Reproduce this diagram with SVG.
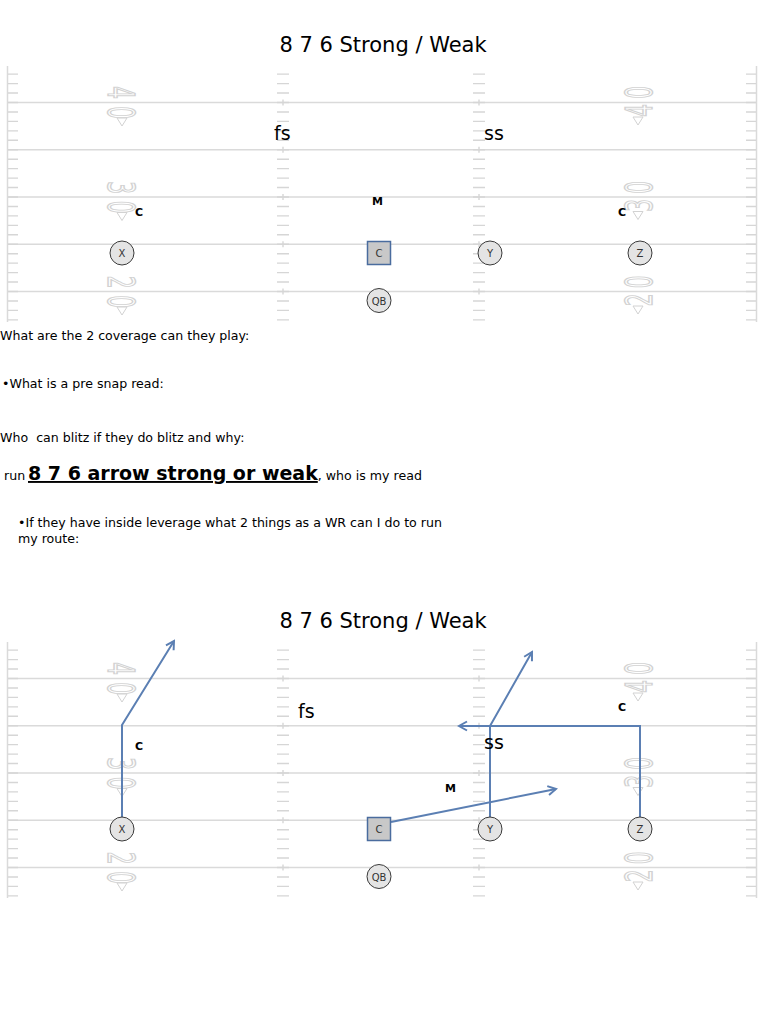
<svg xmlns="http://www.w3.org/2000/svg" xmlns:xlink="http://www.w3.org/1999/xlink" width="768" height="1024" viewBox="0 0 768 1024">
<style>
.fl{stroke:#dadada;stroke-width:1.5;fill:none}
.tk{stroke:#d6d6d6;stroke-width:1.4;fill:none}
.yn{font-family:"DejaVu Sans",sans-serif;font-size:20px;fill:none;stroke:#d2d2d2;stroke-width:0.8;text-anchor:middle}
.tri{fill:#fff;stroke:#d2d2d2;stroke-width:1}
.title{font-family:"DejaVu Sans",sans-serif;font-size:21px;fill:#000;text-anchor:middle}
.big{font-family:"DejaVu Sans",sans-serif;font-size:19px;fill:#000}
.lbl{font-family:"DejaVu Sans",sans-serif;font-size:11px;font-weight:bold;fill:#000}
.pl{fill:#e4e4e4;stroke:#3a3a3a;stroke-width:1}
.ctr{fill:#c8c8c8;stroke:#4a6c9e;stroke-width:1.5}
.pt{font-family:"DejaVu Sans",sans-serif;font-size:10px;fill:#333;text-anchor:middle}
.txt{font-family:"DejaVu Sans",sans-serif;font-size:12.6px;fill:#000}
.rt{fill:none;stroke:#5b7fb3;stroke-width:2;marker-end:url(#ah)}
</style>
<defs>
<marker id="ah" markerWidth="12" markerHeight="12" refX="10" refY="6" orient="auto" markerUnits="userSpaceOnUse">
<path d="M2,1.5 L10,6 L2,10.5" fill="none" stroke="#5b7fb3" stroke-width="2"/>
</marker>
<path id="tk10" d="M0 74.15h10m-10 9.45h10m-10 9.45h10m-10 9.45h10m-10 9.45h10m-10 9.45h10m-10 9.45h10m-10 9.45h10m-10 9.45h10m-10 9.45h10m-10 9.45h10m-10 9.45h10m-10 9.45h10m-10 9.45h10m-10 9.45h10m-10 9.45h10m-10 9.45h10m-10 9.45h10m-10 9.45h10m-10 9.45h10m-10 9.45h10m-10 9.45h10m-10 9.45h10m-10 9.45h10m-10 9.45h10m-10 9.45h10m-10 9.45h10"/>
<path id="tk12" d="M0 74.15h12m-12 9.45h12m-12 9.45h12m-12 9.45h12m-12 9.45h12m-12 9.45h12m-12 9.45h12m-12 9.45h12m-12 9.45h12m-12 9.45h12m-12 9.45h12m-12 9.45h12m-12 9.45h12m-12 9.45h12m-12 9.45h12m-12 9.45h12m-12 9.45h12m-12 9.45h12m-12 9.45h12m-12 9.45h12m-12 9.45h12m-12 9.45h12m-12 9.45h12m-12 9.45h12m-12 9.45h12m-12 9.45h12m-12 9.45h12"/>
<g id="field">
<path class="fl" d="M7.5 66V322M756.5 66V322"/>
<path class="fl" d="M8 102.5H757M8 149.75H757M8 197H757M8 244.25H757M8 291.5H757"/>
<g class="tk">
<use xlink:href="#tk10" x="8"/>
<use xlink:href="#tk10" x="746"/>
<use xlink:href="#tk12" x="277"/>
<use xlink:href="#tk12" x="473"/>
<path d="M283 99.5v6M283 146.75v6M283 194v6M283 241.25v6M283 288.5v6M479 99.5v6M479 146.75v6M479 194v6M479 241.25v6M479 288.5v6"/>
</g>
<g>
<text class="yn" transform="translate(122,92.5) rotate(90) scale(1,1.85)" y="7.3">4</text>
<text class="yn" transform="translate(122,112.5) rotate(90) scale(1,1.85)" y="7.3">0</text>
<polygon class="tri" points="117,118 127,118 122,126"/>
<text class="yn" transform="translate(122,187.5) rotate(90) scale(1,1.85)" y="7.3">3</text>
<text class="yn" transform="translate(122,207) rotate(90) scale(1,1.85)" y="7.3">0</text>
<polygon class="tri" points="117,212.5 127,212.5 122,220.5"/>
<text class="yn" transform="translate(122,282) rotate(90) scale(1,1.85)" y="7.3">2</text>
<text class="yn" transform="translate(122,301.5) rotate(90) scale(1,1.85)" y="7.3">0</text>
<polygon class="tri" points="117,307 127,307 122,315"/>
<text class="yn" transform="translate(638,92.5) rotate(-90) scale(1,1.85)" y="7.3">0</text>
<text class="yn" transform="translate(638,110.5) rotate(-90) scale(1,1.85)" y="7.3">4</text>
<polygon class="tri" points="633,117 643,117 638,125"/>
<text class="yn" transform="translate(638,187.5) rotate(-90) scale(1,1.85)" y="7.3">0</text>
<text class="yn" transform="translate(638,205.5) rotate(-90) scale(1,1.85)" y="7.3">3</text>
<polygon class="tri" points="633,211.5 643,211.5 638,219.5"/>
<text class="yn" transform="translate(638,282) rotate(-90) scale(1,1.85)" y="7.3">0</text>
<text class="yn" transform="translate(638,300) rotate(-90) scale(1,1.85)" y="7.3">2</text>
<polygon class="tri" points="633,306 643,306 638,314"/>
</g>
</g>
</defs>
<rect width="768" height="1024" fill="#fff"/>

<!-- top diagram -->
<text id="title-top" class="title" x="383" y="52">8 7 6 Strong / Weak</text>
<use id="field-top" xlink:href="#field"/>
<g id="top-defense">
<text id="t-fs" class="big" x="274" y="140">fs</text>
<text id="t-ss" class="big" x="484" y="140">ss</text>
<text id="t-m" class="lbl" x="372" y="205">M</text>
<text id="t-c1" class="lbl" x="135" y="216">C</text>
<text id="t-c2" class="lbl" x="618" y="216">C</text>
</g>
<g id="t-x"><circle class="pl" cx="122" cy="253" r="12"/><text class="pt" x="122" y="257">X</text></g>
<g id="t-center"><rect class="ctr" x="367.5" y="241.5" width="23" height="23"/><text class="pt" x="379" y="257">C</text></g>
<g id="t-y"><circle class="pl" cx="490" cy="253" r="12"/><text class="pt" x="490" y="257">Y</text></g>
<g id="t-z"><circle class="pl" cx="640" cy="253" r="12"/><text class="pt" x="640" y="257">Z</text></g>
<g id="t-qb"><circle class="pl" cx="379" cy="300.5" r="12"/><text class="pt" x="379" y="304.5">QB</text></g>

<!-- questions -->
<g id="questions">
<text class="txt" x="0" y="340">What are the 2 coverage can they play:</text>
<text class="txt" x="2" y="388">•What is a pre snap read:</text>
<text class="txt" x="0" y="441.5">Who&#160; can blitz if they do blitz and why:</text>
<text class="txt" x="4" y="480">run <tspan x="28" font-size="19px" font-weight="bold" text-decoration="underline">8 7 6 arrow strong or weak</tspan>, who is my read</text>
<text class="txt" x="18" y="527">•If they have inside leverage what 2 things as a WR can I do to run</text>
<text class="txt" x="18" y="543">my route:</text>
</g>

<!-- bottom diagram -->
<text id="title-bottom" class="title" x="383" y="628">8 7 6 Strong / Weak</text>
<use id="field-bottom" xlink:href="#field" y="576"/>
<g id="connectors">
<path class="rt" d="M122 817V725L174 641"/>
<path class="rt" d="M490 817V726L532 652"/>
<path class="rt" d="M640 817V726H459"/>
<path class="rt" d="M391 822L556 789"/>
</g>
<g id="bottom-defense">
<text id="b-fs" class="big" x="298" y="718">fs</text>
<text id="b-ss" class="big" x="484" y="749">ss</text>
<text id="b-m" class="lbl" x="445" y="792">M</text>
<text id="b-c1" class="lbl" x="135" y="750">C</text>
<text id="b-c2" class="lbl" x="618" y="711">C</text>
</g>
<g id="b-x"><circle class="pl" cx="122" cy="829" r="12"/><text class="pt" x="122" y="833">X</text></g>
<g id="b-center"><rect class="ctr" x="367.5" y="817.5" width="23" height="23"/><text class="pt" x="379" y="833">C</text></g>
<g id="b-y"><circle class="pl" cx="490" cy="829" r="12"/><text class="pt" x="490" y="833">Y</text></g>
<g id="b-z"><circle class="pl" cx="640" cy="829" r="12"/><text class="pt" x="640" y="833">Z</text></g>
<g id="b-qb"><circle class="pl" cx="379" cy="876.5" r="12"/><text class="pt" x="379" y="880.5">QB</text></g>
</svg>
